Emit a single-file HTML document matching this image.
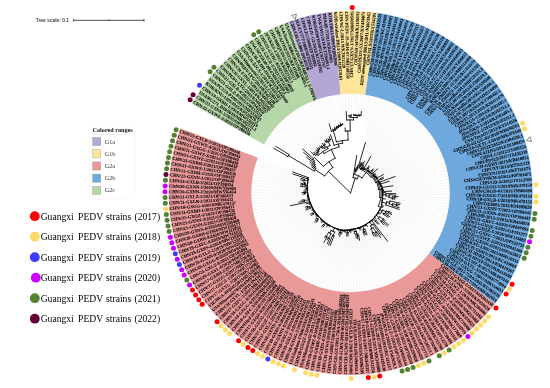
<!DOCTYPE html>
<html lang="en"><head><meta charset="utf-8"><title>PEDV phylogenetic tree</title>
<style>
html,body{margin:0;padding:0;background:#fff;}
body{width:550px;height:388px;overflow:hidden;}
svg{display:block;}
</style></head><body>
<svg width="550" height="388" viewBox="0 0 550 388">
<rect width="550" height="388" fill="#fff"/>
<g id="ranges">
<path d="M191.70,103.87 A182.1,182.1 0 0 1 288.58,21.67 L316.79,99.62 A99.2,99.2 0 0 0 264.02,144.40 Z" fill="#b6d7a8"/>
<path d="M288.58,21.67 A182.1,182.1 0 0 1 332.49,11.70 L340.71,94.19 A99.2,99.2 0 0 0 316.79,99.62 Z" fill="#b4a7d6"/>
<path d="M332.49,11.70 A182.1,182.1 0 0 1 377.50,12.81 L365.23,94.79 A99.2,99.2 0 0 0 340.71,94.19 Z" fill="#ffe599"/>
<path d="M377.50,12.81 A182.1,182.1 0 0 1 495.09,303.66 L429.29,253.24 A99.2,99.2 0 0 0 365.23,94.79 Z" fill="#6fa8dc"/>
<path d="M495.09,303.66 A182.1,182.1 0 0 1 180.32,128.24 L257.81,157.67 A99.2,99.2 0 0 0 429.29,253.24 Z" fill="#ea9999"/>
</g>
<g id="leaders" stroke="#dedede" stroke-width="0.35" fill="none">
<path d="M273.60,148.19L264.78,143.06"/>
<path d="M275.87,146.35L266.36,140.43"/>
<path d="M311.87,167.09L268.03,137.85"/>
<path d="M311.06,164.75L269.77,135.32"/>
<path d="M309.96,162.02L271.60,132.84"/>
<path d="M306.66,157.32L273.49,130.42"/>
<path d="M303.62,152.38L275.47,128.07"/>
<path d="M302.69,148.92L277.51,125.77"/>
<path d="M314.09,157.24L279.63,123.54"/>
<path d="M311.40,152.16L281.81,121.38"/>
<path d="M314.02,152.45L284.06,119.28"/>
<path d="M315.61,151.72L286.37,117.26"/>
<path d="M316.16,149.72L288.75,115.31"/>
<path d="M317.03,148.04L291.18,113.43"/>
<path d="M318.67,147.35L293.67,111.63"/>
<path d="M319.88,146.05L296.22,109.90"/>
<path d="M321.55,145.46L298.81,108.26"/>
<path d="M322.34,143.37L301.46,106.70"/>
<path d="M324.36,143.40L304.15,105.22"/>
<path d="M324.80,140.37L306.89,103.82"/>
<path d="M326.24,139.14L309.67,102.51"/>
<path d="M328.07,138.78L312.49,101.29"/>
<path d="M329.26,136.80L315.35,100.16"/>
<path d="M330.49,134.66L318.24,99.11"/>
<path d="M329.22,124.13L321.16,98.15"/>
<path d="M332.91,129.09L324.11,97.29"/>
<path d="M334.68,127.70L327.09,96.51"/>
<path d="M336.52,126.36L330.08,95.83"/>
<path d="M338.45,125.17L333.10,95.25"/>
<path d="M340.29,123.05L336.13,94.75"/>
<path d="M342.57,123.76L339.18,94.35"/>
<path d="M345.11,128.13L342.24,94.05"/>
<path d="M346.25,111.61L345.31,93.84"/>
<path d="M348.85,115.42L348.38,93.72"/>
<path d="M351.26,114.60L351.45,93.70"/>
<path d="M353.69,114.56L354.53,93.78"/>
<path d="M356.11,114.80L357.59,93.95"/>
<path d="M358.56,114.71L360.66,94.22"/>
<path d="M361.43,111.62L363.71,94.58"/>
<path d="M362.96,117.92L366.75,95.03"/>
<path d="M364.11,124.23L369.77,95.58"/>
<path d="M364.89,130.53L372.78,96.22"/>
<path d="M365.29,136.80L375.76,96.96"/>
<path d="M365.46,142.56L378.72,97.79"/>
<path d="M360.44,162.97L381.66,98.70"/>
<path d="M361.68,162.40L384.56,99.71"/>
<path d="M362.49,163.10L387.43,100.81"/>
<path d="M364.36,161.29L390.27,102.00"/>
<path d="M363.66,165.25L393.06,103.27"/>
<path d="M363.89,166.90L395.82,104.63"/>
<path d="M370.87,156.14L398.53,106.08"/>
<path d="M364.99,168.59L401.20,107.61"/>
<path d="M366.18,168.35L403.82,109.22"/>
<path d="M368.81,166.08L406.39,110.91"/>
<path d="M369.21,167.24L408.90,112.68"/>
<path d="M368.54,169.71L411.36,114.52"/>
<path d="M368.95,170.65L413.76,116.44"/>
<path d="M370.11,170.68L416.09,118.44"/>
<path d="M373.09,168.84L418.37,120.50"/>
<path d="M373.57,169.81L420.58,122.64"/>
<path d="M371.92,172.75L422.72,124.84"/>
<path d="M377.72,168.83L424.80,127.11"/>
<path d="M373.84,173.52L426.80,129.44"/>
<path d="M375.16,173.68L428.73,131.84"/>
<path d="M375.45,174.67L430.58,134.29"/>
<path d="M375.20,176.00L432.36,136.80"/>
<path d="M376.74,176.11L434.06,139.36"/>
<path d="M376.93,177.12L435.68,141.97"/>
<path d="M383.40,174.61L437.22,144.63"/>
<path d="M377.73,178.85L438.67,147.34"/>
<path d="M383.15,177.31L440.04,150.09"/>
<path d="M383.43,178.41L441.32,152.89"/>
<path d="M379.61,181.15L442.52,155.72"/>
<path d="M395.12,176.47L443.63,158.58"/>
<path d="M380.33,182.96L444.64,161.48"/>
<path d="M389.06,181.36L445.57,164.41"/>
<path d="M380.94,184.81L446.41,167.37"/>
<path d="M381.69,185.63L447.15,170.35"/>
<path d="M382.22,186.54L447.81,173.36"/>
<path d="M392.75,185.77L448.36,176.38"/>
<path d="M382.54,188.51L448.83,179.42"/>
<path d="M383.16,189.45L449.20,182.47"/>
<path d="M383.54,190.44L449.48,185.53"/>
<path d="M391.51,191.12L449.66,188.60"/>
<path d="M385.32,192.47L449.74,191.67"/>
<path d="M395.80,193.74L449.73,194.75"/>
<path d="M395.82,195.15L449.63,197.82"/>
<path d="M398.05,196.74L449.43,200.89"/>
<path d="M395.84,197.97L449.13,203.95"/>
<path d="M394.47,199.20L448.74,206.99"/>
<path d="M385.35,199.00L448.26,210.03"/>
<path d="M400.15,203.19L447.68,213.05"/>
<path d="M399.70,204.70L447.01,216.05"/>
<path d="M398.24,205.92L446.25,219.03"/>
<path d="M399.21,207.82L445.39,221.98"/>
<path d="M398.99,209.41L444.45,224.90"/>
<path d="M382.94,205.07L443.41,227.80"/>
<path d="M383.01,206.26L442.28,230.66"/>
<path d="M382.63,207.28L441.07,233.48"/>
<path d="M391.47,212.79L439.77,236.27"/>
<path d="M391.59,214.45L438.38,239.01"/>
<path d="M388.25,214.21L436.91,241.71"/>
<path d="M389.78,216.70L435.36,244.36"/>
<path d="M388.16,217.34L433.72,246.96"/>
<path d="M380.56,213.76L432.01,249.51"/>
<path d="M378.92,213.95L430.22,252.01"/>
<path d="M384.83,220.02L428.35,254.45"/>
<path d="M388.63,224.99L426.40,256.83"/>
<path d="M387.44,226.00L424.38,259.15"/>
<path d="M384.09,224.93L422.30,261.41"/>
<path d="M375.80,218.56L420.14,263.60"/>
<path d="M379.14,223.81L417.92,265.72"/>
<path d="M377.75,224.19L415.63,267.77"/>
<path d="M373.01,220.42L413.28,269.75"/>
<path d="M387.64,241.33L410.87,271.66"/>
<path d="M380.78,235.02L408.40,273.49"/>
<path d="M380.59,237.61L405.87,275.24"/>
<path d="M377.66,236.09L403.29,276.92"/>
<path d="M376.06,236.47L400.67,278.51"/>
<path d="M374.09,236.13L397.99,280.02"/>
<path d="M367.37,226.21L395.27,281.45"/>
<path d="M365.87,225.72L392.50,282.79"/>
<path d="M364.81,226.10L389.70,284.05"/>
<path d="M366.99,234.70L386.86,285.22"/>
<path d="M365.43,234.47L383.98,286.30"/>
<path d="M364.24,235.26L381.07,287.29"/>
<path d="M360.96,228.88L378.13,288.19"/>
<path d="M360.12,230.26L375.16,289.00"/>
<path d="M358.52,228.59L372.17,289.71"/>
<path d="M359.61,240.32L369.16,290.34"/>
<path d="M357.89,239.05L366.14,290.87"/>
<path d="M356.31,238.10L363.09,291.30"/>
<path d="M354.45,233.48L360.04,291.65"/>
<path d="M352.96,230.02L356.98,291.89"/>
<path d="M351.83,230.68L353.91,292.04"/>
<path d="M350.66,232.60L350.83,292.10"/>
<path d="M349.46,231.48L347.76,292.06"/>
<path d="M348.01,235.87L344.69,291.93"/>
<path d="M346.65,236.01L341.62,291.70"/>
<path d="M345.78,232.11L338.57,291.37"/>
<path d="M344.58,231.85L335.52,290.96"/>
<path d="M343.48,231.11L332.49,290.44"/>
<path d="M341.67,233.76L329.48,289.84"/>
<path d="M339.69,236.34L326.48,289.14"/>
<path d="M338.77,234.50L323.51,288.34"/>
<path d="M338.61,230.55L320.57,287.46"/>
<path d="M337.57,229.84L317.65,286.49"/>
<path d="M330.23,245.44L314.77,285.42"/>
<path d="M328.57,244.90L311.92,284.27"/>
<path d="M327.23,243.63L309.11,283.03"/>
<path d="M327.22,239.76L306.34,281.70"/>
<path d="M323.95,242.42L303.61,280.29"/>
<path d="M324.73,237.58L300.92,278.79"/>
<path d="M329.60,226.70L298.28,277.21"/>
<path d="M328.75,225.75L295.70,275.56"/>
<path d="M326.49,226.82L293.16,273.82"/>
<path d="M326.68,224.43L290.68,272.00"/>
<path d="M323.03,227.01L288.26,270.11"/>
<path d="M321.73,226.44L285.90,268.14"/>
<path d="M323.74,222.21L283.60,266.10"/>
<path d="M321.69,222.56L281.36,263.99"/>
<path d="M321.10,221.34L279.19,261.81"/>
<path d="M321.00,219.72L277.09,259.57"/>
<path d="M315.90,222.45L275.06,257.26"/>
<path d="M314.84,221.48L273.11,254.89"/>
<path d="M315.57,219.17L271.22,252.46"/>
<path d="M316.54,216.83L269.42,249.98"/>
<path d="M315.94,215.68L267.69,247.44"/>
<path d="M315.63,214.36L266.04,244.84"/>
<path d="M311.29,215.38L264.47,242.20"/>
<path d="M310.43,214.25L262.98,239.51"/>
<path d="M313.40,211.22L261.58,236.77"/>
<path d="M312.17,210.37L260.26,234.00"/>
<path d="M311.88,209.07L259.03,231.18"/>
<path d="M305.82,210.00L257.89,228.33"/>
<path d="M306.36,208.24L256.84,225.44"/>
<path d="M305.44,207.01L255.87,222.52"/>
<path d="M309.42,204.38L255.00,219.57"/>
<path d="M306.51,203.73L254.22,216.60"/>
<path d="M290.50,205.71L253.53,213.60"/>
<path d="M298.97,202.25L252.94,210.59"/>
<path d="M301.34,200.25L252.44,207.55"/>
<path d="M307.25,198.00L252.03,204.51"/>
<path d="M307.51,196.62L251.72,201.45"/>
<path d="M307.22,195.30L251.50,198.38"/>
<path d="M302.81,194.06L251.38,195.31"/>
<path d="M302.11,192.58L251.35,192.24"/>
<path d="M303.78,191.14L251.42,189.17"/>
<path d="M304.86,189.76L251.58,186.10"/>
<path d="M305.77,188.42L251.84,183.03"/>
<path d="M300.34,186.30L252.19,179.98"/>
<path d="M300.59,184.76L252.64,176.94"/>
<path d="M300.84,183.21L253.18,173.91"/>
<path d="M303.31,182.16L253.82,170.91"/>
<path d="M300.59,179.90L254.55,167.92"/>
<path d="M301.16,178.40L255.37,164.96"/>
<path d="M293.06,174.07L256.28,162.02"/>
<path d="M292.91,172.02L257.28,159.12"/>
</g>
<path id="tree" d="M350.55,192.90L328.33,171.28 M324.62,175.91A31.00,31.00 0 0 1 332.85,167.45 M324.62,175.91L314.92,169.55 M314.05,170.93A42.60,42.60 0 0 1 315.84,168.21 M314.05,170.93L288.43,155.51 M287.86,156.48A72.50,72.50 0 0 1 289.02,154.55 M287.86,156.48L273.60,148.19 M289.02,154.55L275.87,146.35 M315.84,168.21L314.53,167.28 M313.78,168.37A44.20,44.20 0 0 1 315.32,166.21 M313.78,168.37L311.87,167.09 M315.32,166.21L314.20,165.36 M313.42,166.43A45.60,45.60 0 0 1 315.02,164.32 M313.42,166.43L311.06,164.75 M315.02,164.32L313.93,163.44 M313.14,164.45A47.00,47.00 0 0 1 314.74,162.46 M313.14,164.45L309.96,162.02 M314.74,162.46L313.60,161.49 M312.88,162.36A48.50,48.50 0 0 1 314.34,160.64 M312.88,162.36L306.66,157.32 M314.34,160.64L312.84,159.31 M312.33,159.90A50.50,50.50 0 0 1 313.37,158.73 M312.33,159.90L303.62,152.38 M313.37,158.73L302.69,148.92 M332.85,167.45L328.86,161.70 M323.38,166.33A38.00,38.00 0 0 1 335.11,158.18 M323.38,166.33L314.09,157.24 M335.11,158.18L331.25,149.50 M324.03,153.49A47.50,47.50 0 0 1 339.04,146.82 M324.03,153.49L322.81,151.66 M318.03,155.32A49.70,49.70 0 0 1 327.99,148.62 M318.03,155.32L317.05,154.18 M315.65,155.44A51.20,51.20 0 0 1 318.50,152.98 M315.65,155.44L314.56,154.27 M313.96,154.83A52.80,52.80 0 0 1 315.16,153.72 M313.96,154.83L311.40,152.16 M315.16,153.72L314.02,152.45 M318.50,152.98L317.74,152.04 M316.65,152.94A52.40,52.40 0 0 1 318.86,151.17 M316.65,152.94L315.61,151.72 M318.86,151.17L318.26,150.37 M317.28,151.13A53.40,53.40 0 0 1 319.26,149.63 M317.28,151.13L316.16,149.72 M319.26,149.63L318.79,148.98 M318.11,149.48A54.20,54.20 0 0 1 319.47,148.49 M318.11,149.48L317.03,148.04 M319.47,148.49L318.67,147.35 M327.99,148.62L327.13,146.92 M324.32,148.46A51.60,51.60 0 0 1 330.02,145.56 M324.32,148.46L323.61,147.26 M322.21,148.11A53.00,53.00 0 0 1 325.04,146.44 M322.21,148.11L321.57,147.10 M320.86,147.55A54.20,54.20 0 0 1 322.28,146.66 M320.86,147.55L319.88,146.05 M322.28,146.66L321.55,145.46 M325.04,146.44L324.27,145.04 M323.53,145.45A54.60,54.60 0 0 1 325.01,144.64 M323.53,145.45L322.34,143.37 M325.01,144.64L324.36,143.40 M330.02,145.56L328.27,141.52 M326.69,142.24A56.00,56.00 0 0 1 329.87,140.86 M326.69,142.24L326.26,141.33 M325.46,141.72A57.00,57.00 0 0 1 327.06,140.96 M325.46,141.72L324.80,140.37 M327.06,140.96L326.24,139.14 M329.87,140.86L329.39,139.65 M328.57,139.98A57.30,57.30 0 0 1 330.22,139.33 M328.57,139.98L328.07,138.78 M330.22,139.33L329.26,136.80 M339.04,146.82L338.34,144.00 M334.13,145.25A50.40,50.40 0 0 1 342.63,143.13 M334.13,145.25L330.49,134.66 M342.63,143.13L342.23,140.56 M336.40,141.82A53.00,53.00 0 0 1 348.16,139.95 M336.40,141.82L333.33,130.74 M331.44,131.30A64.50,64.50 0 0 1 335.23,130.25 M331.44,131.30L329.22,124.13 M335.23,130.25L334.97,129.18 M333.07,129.67A65.60,65.60 0 0 1 336.89,128.74 M333.07,129.67L332.91,129.09 M336.89,128.74L336.68,127.76 M334.80,128.19A66.60,66.60 0 0 1 338.58,127.38 M334.80,128.19L334.68,127.70 M338.58,127.38L338.42,126.50 M336.62,126.85A67.50,67.50 0 0 1 340.22,126.19 M336.62,126.85L336.52,126.36 M340.22,126.19L340.10,125.40 M338.54,125.66A68.30,68.30 0 0 1 341.67,125.18 M338.54,125.66L338.45,125.17 M341.67,125.18L341.58,124.49 M340.52,124.63A69.00,69.00 0 0 1 342.64,124.35 M340.52,124.63L340.29,123.05 M342.64,124.35L342.57,123.76 M348.16,139.95L347.75,130.96 M345.36,131.12A62.00,62.00 0 0 1 350.15,130.90 M345.36,131.12L345.11,128.13 M350.15,130.90L350.08,119.90 M346.69,120.00A73.00,73.00 0 0 1 353.48,119.96 M346.69,120.00L346.25,111.61 M353.48,119.96L353.58,117.46 M350.07,117.40A75.50,75.50 0 0 1 357.08,117.68 M350.07,117.40L350.06,115.90 M348.86,115.92A77.00,77.00 0 0 1 351.25,115.90 M348.86,115.92L348.85,115.42 M351.25,115.90L351.26,114.60 M357.08,117.68L357.26,115.59 M354.86,115.42A77.60,77.60 0 0 1 359.65,115.84 M354.86,115.42L354.88,115.02 M353.68,114.96A78.00,78.00 0 0 1 356.09,115.10 M353.68,114.96L353.69,114.56 M356.09,115.10L356.11,114.80 M359.65,115.84L359.72,115.24 M358.52,115.11A78.20,78.20 0 0 1 360.92,115.39 M358.52,115.11L358.56,114.71 M360.92,115.39L361.43,111.62 M350.55,192.90L355.15,178.10 M353.08,177.61A15.50,15.50 0 0 1 357.13,178.86 M353.08,177.61L356.76,155.41 M357.13,178.86L358.61,175.70 M354.74,174.37A19.00,19.00 0 0 1 362.11,177.82 M354.74,174.37L355.51,170.95 M354.91,170.83A22.50,22.50 0 0 1 356.10,171.10 M354.91,170.83L355.30,168.86 M356.10,171.10L356.47,169.64 M355.93,169.51A24.00,24.00 0 0 1 357.01,169.79 M355.93,169.51L356.38,167.56 M357.01,169.79L357.55,167.86 M357.16,167.75A26.00,26.00 0 0 1 357.93,167.97 M357.16,167.75L357.79,165.34 M357.93,167.97L365.46,142.56 M362.11,177.82L366.25,172.43 M360.41,169.06A25.80,25.80 0 0 1 371.02,177.20 M360.41,169.06L360.71,168.32 M359.48,167.84A26.60,26.60 0 0 1 361.93,168.86 M359.48,167.84L360.14,165.97 M359.51,165.76A28.58,28.58 0 0 1 360.76,166.20 M359.51,165.76L360.44,162.97 M360.76,166.20L361.26,164.90 M360.83,164.73A29.98,29.98 0 0 1 361.70,165.07 M360.83,164.73L361.68,162.40 M361.70,165.07L362.49,163.10 M361.93,168.86L362.09,168.52 M361.35,168.18A26.98,26.98 0 0 1 362.81,168.87 M361.35,168.18L364.36,161.29 M362.81,168.87L362.87,168.76 M362.16,168.41A27.10,27.10 0 0 1 363.57,169.13 M362.16,168.41L363.66,165.25 M363.57,169.13L363.63,169.02 M362.97,168.68A27.23,27.23 0 0 1 364.27,169.38 M362.97,168.68L363.89,166.90 M364.27,169.38L364.33,169.28 M363.78,168.96A27.35,27.35 0 0 1 364.88,169.60 M363.78,168.96L370.87,156.14 M364.88,169.60L364.94,169.50 M364.58,169.28A27.48,27.48 0 0 1 365.30,169.72 M364.58,169.28L364.99,168.59 M365.30,169.72L366.18,168.35 M371.02,177.20L372.14,176.35 M367.08,171.30A27.20,27.20 0 0 1 375.70,182.55 M367.08,171.30L367.50,170.74 M366.61,170.09A27.90,27.90 0 0 1 368.37,171.43 M366.61,170.09L367.77,168.44 M367.39,168.18A29.91,29.91 0 0 1 368.14,168.71 M367.39,168.18L368.81,166.08 M368.14,168.71L369.21,167.24 M368.37,171.43L368.53,171.24 M367.81,170.66A28.15,28.15 0 0 1 369.23,171.84 M367.81,170.66L368.54,169.71 M369.23,171.84L369.31,171.75 M368.57,171.11A28.27,28.27 0 0 1 370.04,172.42 M368.57,171.11L368.95,170.65 M370.04,172.42L370.13,172.32 M369.31,171.58A28.40,28.40 0 0 1 370.91,173.10 M369.31,171.58L370.11,170.68 M370.91,173.10L371.00,173.01 M370.37,172.39A28.52,28.52 0 0 1 371.60,173.65 M370.37,172.39L371.83,170.88 M371.48,170.55A30.62,30.62 0 0 1 372.17,171.21 M371.48,170.55L373.09,168.84 M372.17,171.21L373.57,169.81 M371.60,173.65L371.79,173.49 M371.49,173.16A28.77,28.77 0 0 1 372.09,173.82 M371.49,173.16L371.92,172.75 M372.09,173.82L377.72,168.83 M375.70,182.55L376.81,182.09 M372.93,175.41A28.40,28.40 0 0 1 378.75,189.57 M372.93,175.41L373.48,174.98 M372.92,174.29A29.10,29.10 0 0 1 374.02,175.70 M372.92,174.29L373.84,173.52 M374.02,175.70L374.12,175.62 M373.58,174.91A29.23,29.23 0 0 1 374.64,176.35 M373.58,174.91L375.16,173.68 M374.64,176.35L374.74,176.27 M374.23,175.55A29.36,29.36 0 0 1 375.23,177.01 M374.23,175.55L375.45,174.67 M375.23,177.01L375.34,176.94 M374.87,176.22A29.49,29.49 0 0 1 375.79,177.66 M374.87,176.22L375.20,176.00 M375.79,177.66L375.90,177.60 M375.48,176.92A29.61,29.61 0 0 1 376.31,178.29 M375.48,176.92L376.74,176.11 M376.31,178.29L376.42,178.23 M376.07,177.63A29.74,29.74 0 0 1 376.76,178.83 M376.07,177.63L376.93,177.12 M376.76,178.83L376.87,178.77 M376.65,178.37A29.87,29.87 0 0 1 377.08,179.18 M376.65,178.37L383.40,174.61 M377.08,179.18L377.73,178.85 M378.75,189.57L379.95,189.43 M377.90,181.59A29.60,29.60 0 0 1 379.79,197.53 M377.90,181.59L378.55,181.32 M378.08,180.25A30.30,30.30 0 0 1 378.97,182.40 M378.08,180.25L380.81,178.99 M380.60,178.53A33.31,33.31 0 0 1 381.03,179.47 M380.60,178.53L383.15,177.31 M381.03,179.47L383.43,178.41 M378.97,182.40L379.21,182.32 M378.87,181.45A30.55,30.55 0 0 1 379.52,183.20 M378.87,181.45L379.61,181.15 M379.52,183.20L379.64,183.16 M379.33,182.29A30.68,30.68 0 0 1 379.92,184.03 M379.33,182.29L395.12,176.47 M379.92,184.03L380.04,184.00 M379.76,183.15A30.80,30.80 0 0 1 380.28,184.86 M379.76,183.15L380.33,182.96 M380.28,184.86L380.40,184.83 M380.17,184.02A30.93,30.93 0 0 1 380.61,185.64 M380.17,184.02L389.06,181.36 M380.61,185.64L380.73,185.61 M380.55,184.91A31.05,31.05 0 0 1 380.89,186.31 M380.55,184.91L380.94,184.81 M380.89,186.31L381.02,186.29 M380.91,185.81A31.18,31.18 0 0 1 381.11,186.76 M380.91,185.81L381.69,185.63 M381.11,186.76L382.22,186.54 M379.79,197.53L381.17,197.74 M381.27,188.74A31.00,31.00 0 0 1 378.48,206.34 M381.27,188.74L382.06,188.63 M381.91,187.60A31.80,31.80 0 0 1 382.18,189.66 M381.91,187.60L392.75,185.77 M382.18,189.66L382.28,189.65 M382.15,188.57A31.89,31.89 0 0 1 382.37,190.73 M382.15,188.57L382.54,188.51 M382.37,190.73L382.46,190.72 M382.36,189.54A31.99,31.99 0 0 1 382.52,191.91 M382.36,189.54L383.16,189.45 M382.52,191.91L382.62,191.91 M382.54,190.52A32.08,32.08 0 0 1 382.63,193.31 M382.54,190.52L383.54,190.44 M382.63,193.31L382.72,193.31 M382.70,191.51A32.18,32.18 0 0 1 382.65,195.11 M382.70,191.51L391.51,191.12 M382.65,195.11L382.74,195.11 M382.82,192.50A32.27,32.27 0 0 1 382.46,197.71 M382.82,192.50L385.32,192.47 M382.46,197.71L382.55,197.72 M382.87,194.57A32.36,32.36 0 0 1 381.93,200.83 M382.87,194.57L385.92,194.72 M385.96,193.56A35.42,35.42 0 0 1 385.84,195.89 M385.96,193.56L395.80,193.74 M385.84,195.89L389.12,196.17 M389.21,194.82A38.71,38.71 0 0 1 388.99,197.51 M389.21,194.82L395.82,195.15 M388.99,197.51L392.33,197.91 M392.44,196.94A42.08,42.08 0 0 1 392.20,198.88 M392.44,196.94L394.34,197.12 M394.40,196.44A43.99,43.99 0 0 1 394.27,197.80 M394.40,196.44L398.05,196.74 M394.27,197.80L395.84,197.97 M392.20,198.88L394.47,199.20 M381.93,200.83L382.38,200.95 M382.89,198.57A32.84,32.84 0 0 1 381.70,203.28 M382.89,198.57L385.35,199.00 M381.70,203.28L381.79,203.31 M382.16,202.12A32.93,32.93 0 0 1 381.37,204.48 M382.16,202.12L386.32,203.34 M386.75,201.74A37.27,37.27 0 0 1 385.82,204.92 M386.75,201.74L389.56,202.42 M389.87,201.06A40.16,40.16 0 0 1 389.21,203.78 M389.87,201.06L400.15,203.19 M389.21,203.78L392.63,204.74 M392.89,203.76A43.71,43.71 0 0 1 392.34,205.71 M392.89,203.76L396.48,204.68 M396.66,203.97A47.42,47.42 0 0 1 396.30,205.39 M396.66,203.97L399.70,204.70 M396.30,205.39L398.24,205.92 M392.34,205.71L399.21,207.82 M385.82,204.92L398.99,209.41 M381.37,204.48L382.94,205.07 M378.48,206.34L380.83,207.47 M381.62,205.69A33.60,33.60 0 0 1 379.93,209.21 M381.62,205.69L383.01,206.26 M379.93,209.21L379.98,209.24 M381.26,206.67A33.66,33.66 0 0 1 378.48,211.68 M381.26,206.67L382.63,207.28 M378.48,211.68L378.53,211.72 M379.71,209.83A33.72,33.72 0 0 1 377.23,213.52 M379.71,209.83L381.94,211.12 M382.55,210.02A36.29,36.29 0 0 1 381.28,212.21 M382.55,210.02L385.84,211.77 M386.27,210.95A40.02,40.02 0 0 1 385.39,212.59 M386.27,210.95L388.62,212.14 M388.91,211.54A42.65,42.65 0 0 1 388.31,212.72 M388.91,211.54L391.47,212.79 M388.31,212.72L391.59,214.45 M385.39,212.59L388.25,214.21 M381.28,212.21L383.92,213.86 M384.24,213.34A39.41,39.41 0 0 1 383.59,214.38 M384.24,213.34L389.78,216.70 M383.59,214.38L388.16,217.34 M377.23,213.52L377.49,213.72 M378.51,212.33A34.05,34.05 0 0 1 376.41,215.05 M378.51,212.33L380.56,213.76 M376.41,215.05L376.46,215.10 M377.96,213.23A34.12,34.12 0 0 1 374.85,216.86 M377.96,213.23L378.92,213.95 M374.85,216.86L374.90,216.92 M376.36,215.34A34.20,34.20 0 0 1 373.35,218.39 M376.36,215.34L378.97,217.62 M379.72,216.73A37.67,37.67 0 0 1 378.19,218.49 M379.72,216.73L382.84,219.27 M383.24,218.77A41.69,41.69 0 0 1 382.43,219.77 M383.24,218.77L384.83,220.02 M382.43,219.77L388.63,224.99 M378.19,218.49L381.34,221.40 M381.78,220.92A41.95,41.95 0 0 1 380.89,221.87 M381.78,220.92L387.44,226.00 M380.89,221.87L384.09,224.93 M373.35,218.39L373.55,218.62 M374.75,217.49A34.50,34.50 0 0 1 372.29,219.69 M374.75,217.49L375.80,218.56 M372.29,219.69L372.34,219.75 M373.63,218.64A34.58,34.58 0 0 1 370.99,220.79 M373.63,218.64L375.53,220.76 M375.96,220.37A37.42,37.42 0 0 1 375.10,221.14 M375.96,220.37L379.14,223.81 M375.10,221.14L377.75,224.19 M370.99,220.79L371.08,220.91 M372.51,219.80A34.73,34.73 0 0 1 369.59,221.94 M372.51,219.80L373.01,220.42 M369.59,221.94L369.63,222.00 M371.71,220.53A34.80,34.80 0 0 1 367.46,223.32 M371.71,220.53L387.64,241.33 M367.46,223.32L367.49,223.38 M369.77,222.00A34.88,34.88 0 0 1 365.11,224.59 M369.77,222.00L371.83,225.11 M373.06,224.26A38.61,38.61 0 0 1 370.57,225.91 M373.06,224.26L380.78,235.02 M370.57,225.91L372.07,228.39 M373.16,227.71A41.50,41.50 0 0 1 370.96,229.04 M373.16,227.71L376.15,232.31 M376.76,231.91A46.99,46.99 0 0 1 375.54,232.70 M376.76,231.91L380.59,237.61 M375.54,232.70L377.66,236.09 M370.96,229.04L373.05,232.74 M373.67,232.39A45.76,45.76 0 0 1 372.43,233.08 M373.67,232.39L376.06,236.47 M372.43,233.08L374.09,236.13 M365.11,224.59L365.29,224.99 M366.47,224.42A35.31,35.31 0 0 1 364.10,225.51 M366.47,224.42L367.37,226.21 M364.10,225.51L364.14,225.61 M365.53,225.00A35.42,35.42 0 0 1 362.73,226.16 M365.53,225.00L365.87,225.72 M362.73,226.16L362.76,226.26 M364.57,225.54A35.53,35.53 0 0 1 360.92,226.88 M364.57,225.54L364.81,226.10 M360.92,226.88L360.95,226.99 M362.82,226.36A35.64,35.64 0 0 1 359.05,227.51 M362.82,226.36L364.01,229.61 M364.86,229.29A39.10,39.10 0 0 1 363.15,229.91 M364.86,229.29L366.99,234.70 M363.15,229.91L363.83,231.91 M364.44,231.70A41.21,41.21 0 0 1 363.23,232.11 M364.44,231.70L365.43,234.47 M363.23,232.11L364.24,235.26 M359.05,227.51L359.12,227.82 M360.55,227.44A35.96,35.96 0 0 1 357.68,228.14 M360.55,227.44L360.96,228.88 M357.68,228.14L357.70,228.25 M359.50,227.84A36.06,36.06 0 0 1 355.89,228.57 M359.50,227.84L360.12,230.26 M355.89,228.57L355.91,228.67 M358.44,228.20A36.17,36.17 0 0 1 353.35,228.96 M358.44,228.20L358.52,228.59 M353.35,228.96L353.36,229.07 M355.00,228.90A36.28,36.28 0 0 1 351.72,229.16 M355.00,228.90L355.31,231.39 M356.35,231.25A38.78,38.78 0 0 1 354.26,231.51 M356.35,231.25L356.76,234.00 M357.72,233.85A41.57,41.57 0 0 1 355.81,234.14 M357.72,233.85L358.02,235.57 M358.68,235.45A43.32,43.32 0 0 1 357.36,235.68 M358.68,235.45L359.61,240.32 M357.36,235.68L357.89,239.05 M355.81,234.14L356.31,238.10 M354.26,231.51L354.45,233.48 M351.72,229.16L351.74,229.68 M352.93,229.62A36.80,36.80 0 0 1 350.54,229.70 M352.93,229.62L352.96,230.02 M350.54,229.70L350.54,229.90 M351.80,229.88A37.00,37.00 0 0 1 349.28,229.88 M351.80,229.88L351.83,230.68 M349.28,229.88L349.28,230.08 M350.66,230.10A37.20,37.20 0 0 1 347.90,230.01 M350.66,230.10L350.66,232.60 M347.90,230.01L347.88,230.20 M349.50,230.29A37.40,37.40 0 0 1 346.28,230.06 M349.50,230.29L349.46,231.48 M346.28,230.06L346.25,230.25 M347.75,230.40A37.60,37.60 0 0 1 344.77,230.05 M347.75,230.40L347.57,232.72 M348.19,232.76A39.93,39.93 0 0 1 346.96,232.67 M348.19,232.76L348.01,235.87 M346.96,232.67L346.65,236.01 M344.77,230.05L344.71,230.45 M345.96,230.62A38.00,38.00 0 0 1 343.46,230.23 M345.96,230.62L345.78,232.11 M343.46,230.23L343.42,230.43 M344.76,230.66A38.20,38.20 0 0 1 342.09,230.15 M344.76,230.66L344.58,231.85 M342.09,230.15L342.08,230.21 M343.58,230.52A38.26,38.26 0 0 1 340.59,229.84 M343.58,230.52L343.48,231.11 M340.59,229.84L340.57,229.90 M342.41,230.34A38.32,38.32 0 0 1 338.75,229.36 M342.41,230.34L341.67,233.76 M338.75,229.36L338.74,229.41 M340.66,229.98A38.38,38.38 0 0 1 336.84,228.74 M340.66,229.98L340.03,232.35 M340.65,232.50A40.82,40.82 0 0 1 339.42,232.18 M340.65,232.50L339.69,236.34 M339.42,232.18L338.77,234.50 M336.84,228.74L336.80,228.86 M338.92,229.60A38.50,38.50 0 0 1 334.73,227.99 M338.92,229.60L338.61,230.55 M334.73,227.99L334.70,228.05 M337.77,229.27A38.55,38.55 0 0 1 331.76,226.56 M337.77,229.27L337.57,229.84 M331.76,226.56L331.73,226.61 M334.42,227.98A38.61,38.61 0 0 1 329.15,225.04 M334.42,227.98L332.88,231.33 M334.69,232.11A42.29,42.29 0 0 1 331.12,230.46 M334.69,232.11L333.28,235.59 M333.94,235.86A46.06,46.06 0 0 1 332.62,235.32 M333.94,235.86L330.23,245.44 M332.62,235.32L328.57,244.90 M331.12,230.46L329.79,233.02 M331.05,233.64A45.17,45.17 0 0 1 328.56,232.36 M331.05,233.64L328.84,238.26 M329.54,238.59A50.29,50.29 0 0 1 328.14,237.92 M329.54,238.59L327.23,243.63 M328.14,237.92L327.22,239.76 M328.56,232.36L326.26,236.49 M326.94,236.86A49.90,49.90 0 0 1 325.59,236.10 M326.94,236.86L323.95,242.42 M325.59,236.10L324.73,237.58 M329.15,225.04L328.95,225.34 M330.02,226.02A38.97,38.97 0 0 1 327.91,224.62 M330.02,226.02L329.60,226.70 M327.91,224.62L327.87,224.66 M328.97,225.42A39.03,39.03 0 0 1 326.80,223.87 M328.97,225.42L328.75,225.75 M326.80,223.87L326.77,223.92 M327.94,224.78A39.09,39.09 0 0 1 325.63,223.01 M327.94,224.78L326.49,226.82 M325.63,223.01L325.59,223.06 M326.93,224.11A39.15,39.15 0 0 1 324.31,221.95 M326.93,224.11L326.68,224.43 M324.31,221.95L324.27,221.99 M325.46,223.03A39.20,39.20 0 0 1 323.12,220.91 M325.46,223.03L323.90,224.90 M324.40,225.31A41.64,41.64 0 0 1 323.41,224.49 M324.40,225.31L323.03,227.01 M323.41,224.49L321.73,226.44 M323.12,220.91L323.03,220.99 M324.01,221.92A39.32,39.32 0 0 1 322.09,220.03 M324.01,221.92L323.74,222.21 M322.09,220.03L322.05,220.07 M323.08,221.12A39.38,39.38 0 0 1 321.05,218.99 M323.08,221.12L321.69,222.56 M321.05,218.99L321.00,219.03 M322.18,220.30A39.44,39.44 0 0 1 319.88,217.70 M322.18,220.30L321.10,221.34 M319.88,217.70L319.84,217.74 M321.30,219.45A39.50,39.50 0 0 1 318.47,215.95 M321.30,219.45L321.00,219.72 M318.47,215.95L318.35,216.03 M319.41,217.44A39.65,39.65 0 0 1 317.36,214.59 M319.41,217.44L317.47,218.96 M318.09,219.72A42.11,42.11 0 0 1 316.88,218.18 M318.09,219.72L316.93,220.68 M317.36,221.20A43.62,43.62 0 0 1 316.50,220.16 M317.36,221.20L315.90,222.45 M316.50,220.16L314.84,221.48 M316.88,218.18L315.57,219.17 M317.36,214.59L316.99,214.83 M317.76,215.97A40.09,40.09 0 0 1 316.26,213.67 M317.76,215.97L316.54,216.83 M316.26,213.67L316.14,213.74 M316.94,215.02A40.24,40.24 0 0 1 315.38,212.44 M316.94,215.02L315.94,215.68 M315.38,212.44L315.25,212.51 M316.15,214.04A40.38,40.38 0 0 1 314.42,210.94 M316.15,214.04L315.63,214.36 M314.42,210.94L314.29,211.01 M315.07,212.49A40.53,40.53 0 0 1 313.57,209.49 M315.07,212.49L313.25,213.50 M313.57,214.08A42.61,42.61 0 0 1 312.93,212.92 M313.57,214.08L311.29,215.38 M312.93,212.92L310.43,214.25 M313.57,209.49L313.30,209.61 M313.94,210.96A40.82,40.82 0 0 1 312.72,208.23 M313.94,210.96L313.40,211.22 M312.72,208.23L312.58,208.29 M313.26,209.87A40.97,40.97 0 0 1 311.97,206.68 M313.26,209.87L312.17,210.37 M311.97,206.68L311.83,206.73 M312.62,208.77A41.12,41.12 0 0 1 311.15,204.65 M312.62,208.77L311.88,209.07 M311.15,204.65L311.01,204.70 M311.67,206.74A41.26,41.26 0 0 1 310.45,202.62 M311.67,206.74L309.89,207.37 M310.24,208.31A43.15,43.15 0 0 1 309.57,206.42 M310.24,208.31L305.82,210.00 M309.57,206.42L307.58,207.08 M307.80,207.74A45.25,45.25 0 0 1 307.36,206.41 M307.80,207.74L306.36,208.24 M307.36,206.41L305.44,207.01 M310.45,202.62L310.02,202.73 M310.38,204.11A41.71,41.71 0 0 1 309.70,201.33 M310.38,204.11L309.42,204.38 M309.70,201.33L309.56,201.36 M309.91,202.90A41.85,41.85 0 0 1 309.27,199.81 M309.91,202.90L306.51,203.73 M309.27,199.81L309.13,199.83 M309.47,201.67A42.00,42.00 0 0 1 308.86,197.98 M309.47,201.67L290.50,205.71 M308.86,197.98L308.66,198.01 M308.91,199.78A42.20,42.20 0 0 1 308.48,196.23 M308.91,199.78L304.24,200.55 M304.37,201.27A46.94,46.94 0 0 1 304.13,199.83 M304.37,201.27L298.97,202.25 M304.13,199.83L301.34,200.25 M308.48,196.23L308.08,196.26 M308.24,197.88A42.60,42.60 0 0 1 307.98,194.62 M308.24,197.88L307.25,198.00 M307.98,194.62L307.79,194.63 M307.91,196.59A42.80,42.80 0 0 1 307.75,192.67 M307.91,196.59L307.51,196.62 M307.75,192.67L307.55,192.67 M307.62,195.28A43.00,43.00 0 0 1 307.64,190.06 M307.62,195.28L307.22,195.30 M307.64,190.06L307.44,190.05 M307.35,192.28A43.20,43.20 0 0 1 307.65,187.83 M307.35,192.28L305.57,192.25 M305.57,193.30A44.98,44.98 0 0 1 305.60,191.21 M305.57,193.30L304.50,193.31 M304.52,194.02A46.05,46.05 0 0 1 304.50,192.59 M304.52,194.02L302.81,194.06 M304.50,192.59L302.11,192.58 M305.60,191.21L303.78,191.14 M307.65,187.83L307.05,187.76 M306.85,189.90A43.80,43.80 0 0 1 307.36,185.64 M306.85,189.90L304.86,189.76 M307.36,185.64L307.16,185.61 M306.77,188.52A44.00,44.00 0 0 1 307.74,182.73 M306.77,188.52L305.77,188.42 M307.74,182.73L307.57,182.69 M306.98,185.62A44.17,44.17 0 0 1 308.36,179.80 M306.98,185.62L305.27,185.34 M305.04,186.92A45.91,45.91 0 0 1 305.56,183.76 M305.04,186.92L300.34,186.30 M305.56,183.76L304.57,183.56 M304.37,184.64A46.91,46.91 0 0 1 304.80,182.50 M304.37,184.64L302.65,184.33 M302.52,185.07A48.66,48.66 0 0 1 302.79,183.59 M302.52,185.07L300.59,184.76 M302.79,183.59L300.84,183.21 M304.80,182.50L303.31,182.16 M308.36,179.80L307.69,179.59 M307.30,180.93A44.88,44.88 0 0 1 308.13,178.27 M307.30,180.93L304.14,180.05 M303.95,180.77A48.15,48.15 0 0 1 304.35,179.34 M303.95,180.77L300.59,179.90 M304.35,179.34L301.16,178.40 M308.13,178.27L307.80,178.16 M307.57,178.82A45.23,45.23 0 0 1 308.03,177.50 M307.57,178.82L293.06,174.07 M308.03,177.50L292.91,172.02" fill="none" stroke="#000" stroke-width="0.85" stroke-linecap="square"/>
<g id="labels" font-family="'Liberation Serif', serif" font-weight="bold" font-size="4.45" fill="#000" stroke="#000" stroke-width="0.07">
<text transform="translate(350.55,192.9) rotate(30.158)" x="-181.6" y="1.45" text-anchor="start">CHN/22-GXWZ-2/2022/OP398450</text>
<text transform="translate(350.55,192.9) rotate(31.933)" x="-181.6" y="1.45" text-anchor="start">CHN/22-GXNN-2/2022/OP398451</text>
<text transform="translate(350.55,192.9) rotate(33.709)" x="-181.6" y="1.45" text-anchor="start">USA/PC273_D10/2019/MK392335.1</text>
<text transform="translate(350.55,192.9) rotate(35.484)" x="-181.6" y="1.45" text-anchor="start">CHN/19-GXBH-1/2019/MW556459</text>
<text transform="translate(350.55,192.9) rotate(37.259)" x="-181.6" y="1.45" text-anchor="start">KOR/KNU-1305/2015/KP520679.1</text>
<text transform="translate(350.55,192.9) rotate(39.035)" x="-181.6" y="1.45" text-anchor="start">USA/PC22A-P100/2015/MF532693</text>
<text transform="translate(350.55,192.9) rotate(40.810)" x="-181.6" y="1.45" text-anchor="start">CHN/21-GXLZ-8/2021/OP632510</text>
<text transform="translate(350.55,192.9) rotate(42.586)" x="-181.6" y="1.45" text-anchor="start">CHN/21-GXLB-4/2021/OP942950</text>
<text transform="translate(350.55,192.9) rotate(44.361)" x="-181.6" y="1.45" text-anchor="start">CHN/PEDV-LYG/2013/KM427055</text>
<text transform="translate(350.55,192.9) rotate(46.136)" x="-181.6" y="1.45" text-anchor="start">CHN/CH-GXYL-1/2014/KJ435105</text>
<text transform="translate(350.55,192.9) rotate(47.912)" x="-181.6" y="1.45" text-anchor="start">CHN/CH-FJND-3/2012/KM434843</text>
<text transform="translate(350.55,192.9) rotate(49.687)" x="-181.6" y="1.45" text-anchor="start">CHN/PEDV-LYG/2014/KR427186</text>
<text transform="translate(350.55,192.9) rotate(51.463)" x="-181.6" y="1.45" text-anchor="start">USA/Minnesota52/2013/LC538354</text>
<text transform="translate(350.55,192.9) rotate(53.238)" x="-181.6" y="1.45" text-anchor="start">CHN/CH-ZJCX-1/2014/KJ435105</text>
<text transform="translate(350.55,192.9) rotate(55.013)" x="-181.6" y="1.45" text-anchor="start">CHN/CH-JLDH-2016/2011/KJ458469</text>
<text transform="translate(350.55,192.9) rotate(56.789)" x="-181.6" y="1.45" text-anchor="start">USA/NC35140/2014/MH514499.1</text>
<text transform="translate(350.55,192.9) rotate(58.564)" x="-181.6" y="1.45" text-anchor="start">CHN/21-GXCZ-1/2021/OP515403</text>
<text transform="translate(350.55,192.9) rotate(60.340)" x="-181.6" y="1.45" text-anchor="start">CHN/21-GXHC-8/2021/OP874809</text>
<text transform="translate(350.55,192.9) rotate(62.115)" x="-181.6" y="1.45" text-anchor="start">JPN/KGS-1/2013/KR502312.1</text>
<text transform="translate(350.55,192.9) rotate(63.890)" x="-181.6" y="1.45" text-anchor="start">CHN/HBQX/2011/MK395117</text>
<text transform="translate(350.55,192.9) rotate(65.666)" x="-181.6" y="1.45" text-anchor="start">CHN/AJ1102/2012/KF411086</text>
<text transform="translate(350.55,192.9) rotate(67.441)" x="-181.6" y="1.45" text-anchor="start">USA/Iowa-18984/2015/MF532693.1</text>
<text transform="translate(350.55,192.9) rotate(69.217)" x="-181.6" y="1.45" text-anchor="start">USA/Minnesota/2013/KF468752.1 S-INDEL</text>
<text transform="translate(350.55,192.9) rotate(70.992)" x="-181.6" y="1.45" text-anchor="start">CHN/CH-S/1986/JN547228</text>
<text transform="translate(350.55,192.9) rotate(72.767)" x="-181.6" y="1.45" text-anchor="start">SUI/CV777/1988/AF353511</text>
<text transform="translate(350.55,192.9) rotate(74.543)" x="-181.6" y="1.45" text-anchor="start">CHN/LZC/2006/EF185992</text>
<text transform="translate(350.55,192.9) rotate(76.318)" x="-181.6" y="1.45" text-anchor="start">CHN/ZJU-G2/2013/KU558702</text>
<text transform="translate(350.55,192.9) rotate(78.094)" x="-181.6" y="1.45" text-anchor="start">KOR/SM98/1998/GU937797</text>
<text transform="translate(350.55,192.9) rotate(79.869)" x="-181.6" y="1.45" text-anchor="start">TWA/YA03/2014/KT336491.1</text>
<text transform="translate(350.55,192.9) rotate(81.644)" x="-181.6" y="1.45" text-anchor="start">THA/85-7/2011/KR610993</text>
<text transform="translate(350.55,192.9) rotate(83.420)" x="-181.6" y="1.45" text-anchor="start">KOR/DR13/1999/DQ862099</text>
<text transform="translate(350.55,192.9) rotate(85.195)" x="-181.6" y="1.45" text-anchor="start">KOR/virulent DR13/2009/JQ023161</text>
<text transform="translate(350.55,192.9) rotate(86.971)" x="-181.6" y="1.45" text-anchor="start">CHN/SC-L/2015 N/KT021228</text>
<text transform="translate(350.55,192.9) rotate(88.746)" x="-181.6" y="1.45" text-anchor="start">CHN/PEDV-JS-2016-07/MH748550</text>
<text transform="translate(350.55,192.9) rotate(-89.479)" x="181.6" y="1.45" text-anchor="end">CHN/17-GXNN-1/2017/MK690505</text>
<text transform="translate(350.55,192.9) rotate(-87.703)" x="181.6" y="1.45" text-anchor="end">CHN/AH-M/2014/KJ158152</text>
<text transform="translate(350.55,192.9) rotate(-85.928)" x="181.6" y="1.45" text-anchor="end">CHN/PEDV-SX/2017/KY420075</text>
<text transform="translate(350.55,192.9) rotate(-84.152)" x="181.6" y="1.45" text-anchor="end">KUN/attenuated DR13/2011/JQ023162</text>
<text transform="translate(350.55,192.9) rotate(-82.377)" x="181.6" y="1.45" text-anchor="end">CHN/JSLS/2015/KX534205</text>
<text transform="translate(350.55,192.9) rotate(-80.602)" x="181.6" y="1.45" text-anchor="end">CHN/CH-GDHY/2016/KJ419529</text>
<text transform="translate(350.55,192.9) rotate(-78.826)" x="181.6" y="1.45" text-anchor="end">CHN/CH-HNYF/2012/KC419005</text>
<text transform="translate(350.55,192.9) rotate(-77.051)" x="181.6" y="1.45" text-anchor="end">CHN/CH-HNAY/2012/KC419005</text>
<text transform="translate(350.55,192.9) rotate(-75.275)" x="181.6" y="1.45" text-anchor="end">CHN/SHpd-2012/2014/KJ435105</text>
<text transform="translate(350.55,192.9) rotate(-73.500)" x="181.6" y="1.45" text-anchor="end">CHN/HB-2012-3/2012/KM434843</text>
<text transform="translate(350.55,192.9) rotate(-71.725)" x="181.6" y="1.45" text-anchor="end">CHN/SHpd-2012/2013/KR434974</text>
<text transform="translate(350.55,192.9) rotate(-69.949)" x="181.6" y="1.45" text-anchor="end">CHN/PEDV-LYG/2011/KC426793</text>
<text transform="translate(350.55,192.9) rotate(-68.174)" x="181.6" y="1.45" text-anchor="end">CHN/PEDV-LYG/2015/KJ427317</text>
<text transform="translate(350.55,192.9) rotate(-66.398)" x="181.6" y="1.45" text-anchor="end">CHN/CH-HNAY/2014/KM419267</text>
<text transform="translate(350.55,192.9) rotate(-64.623)" x="181.6" y="1.45" text-anchor="end">CHN/HB-2012-3/2016/MH435367</text>
<text transform="translate(350.55,192.9) rotate(-62.848)" x="181.6" y="1.45" text-anchor="end">CHN/CH-HNAY/2018/MH419791</text>
<text transform="translate(350.55,192.9) rotate(-61.072)" x="181.6" y="1.45" text-anchor="end">CHN/SHpd-2012/2015/KY435236</text>
<text transform="translate(350.55,192.9) rotate(-59.297)" x="181.6" y="1.45" text-anchor="end">CHN/CH-JLDH-2016/2016/LC459124</text>
<text transform="translate(350.55,192.9) rotate(-57.521)" x="181.6" y="1.45" text-anchor="end">CHN/CH-GDGZ-2012/2012/KY458600</text>
<text transform="translate(350.55,192.9) rotate(-55.746)" x="181.6" y="1.45" text-anchor="end">CHN/CH-GDGZ-2012/2014/KU458862</text>
<text transform="translate(350.55,192.9) rotate(-53.971)" x="181.6" y="1.45" text-anchor="end">CHN/CH-SCZG/2016/KJ419529</text>
<text transform="translate(350.55,192.9) rotate(-52.195)" x="181.6" y="1.45" text-anchor="end">CHN/CH-ZMDZY-11/2014/MH450943</text>
<text transform="translate(350.55,192.9) rotate(-50.420)" x="181.6" y="1.45" text-anchor="end">CHN/CH-ZMDZY-11/2013/KY450812</text>
<text transform="translate(350.55,192.9) rotate(-48.644)" x="181.6" y="1.45" text-anchor="end">KOR/K14JB01/2014/MH514499</text>
<text transform="translate(350.55,192.9) rotate(-46.869)" x="181.6" y="1.45" text-anchor="end">CHN/CH-ZMDZY-11/2015/KU451074</text>
<text transform="translate(350.55,192.9) rotate(-45.094)" x="181.6" y="1.45" text-anchor="end">CHN/CH-ZMDZY-11/2016/KP451205</text>
<text transform="translate(350.55,192.9) rotate(-43.318)" x="181.6" y="1.45" text-anchor="end">ESP/Castilla/2013/MH520333.1</text>
<text transform="translate(350.55,192.9) rotate(-41.543)" x="181.6" y="1.45" text-anchor="end">GER/L00719/2013/KJ508319.1</text>
<text transform="translate(350.55,192.9) rotate(-39.767)" x="181.6" y="1.45" text-anchor="end">USA/Kansas29/2014/KU520506</text>
<text transform="translate(350.55,192.9) rotate(-37.992)" x="181.6" y="1.45" text-anchor="end">ESP/Castilla/2014/KU520506.1</text>
<text transform="translate(350.55,192.9) rotate(-36.217)" x="181.6" y="1.45" text-anchor="end">USA/NC35140/2014/MH514499</text>
<text transform="translate(350.55,192.9) rotate(-34.441)" x="181.6" y="1.45" text-anchor="end">GER/L00719/2014/KY508492.1</text>
<text transform="translate(350.55,192.9) rotate(-32.666)" x="181.6" y="1.45" text-anchor="end">CHN/FL2013/2015/KM411479</text>
<text transform="translate(350.55,192.9) rotate(-30.890)" x="181.6" y="1.45" text-anchor="end">JPN/KGS-1/2014/KJ502485.1</text>
<text transform="translate(350.55,192.9) rotate(-29.115)" x="181.6" y="1.45" text-anchor="end">JPN/OKN-1/2013/KR502312.1</text>
<text transform="translate(350.55,192.9) rotate(-27.340)" x="181.6" y="1.45" text-anchor="end">JPN/OKN-1/2014/KJ502485.1</text>
<text transform="translate(350.55,192.9) rotate(-25.564)" x="181.6" y="1.45" text-anchor="end">JPN/MYZ-1/2013/KR502312.1</text>
<text transform="translate(350.55,192.9) rotate(-23.789)" x="181.6" y="1.45" text-anchor="end">USA/Texas31/2013/KY514326</text>
<text transform="translate(350.55,192.9) rotate(-22.013)" x="181.6" y="1.45" text-anchor="end">CHN/CH-GLGC-02/2018/MK690502</text>
<text transform="translate(350.55,192.9) rotate(-20.238)" x="181.6" y="1.45" text-anchor="end">CHN/18-GXYL-1/2018/MK478160</text>
<text transform="translate(350.55,192.9) rotate(-18.463)" x="181.6" y="1.45" text-anchor="end">CHN/GDS22/2012/KF384500.1</text>
<text transform="translate(350.55,192.9) rotate(-16.687)" x="181.6" y="1.45" text-anchor="end">CHN/AJ1102/2012/JX188454</text>
<text transform="translate(350.55,192.9) rotate(-14.912)" x="181.6" y="1.45" text-anchor="end">CHN/LC/2012/JX489155</text>
<text transform="translate(350.55,192.9) rotate(-13.136)" x="181.6" y="1.45" text-anchor="end">CHN/PDS25/2017/JX435310</text>
<text transform="translate(350.55,192.9) rotate(-11.361)" x="181.6" y="1.45" text-anchor="end">CHN/CH-GDHY/2015/KR818832</text>
<text transform="translate(350.55,192.9) rotate(-9.586)" x="181.6" y="1.45" text-anchor="end">CHN/XY/2015/KT021228</text>
<text transform="translate(350.55,192.9) rotate(-7.810)" x="181.6" y="1.45" text-anchor="end">CHN/YN15/2013/KF761675</text>
<text transform="translate(350.55,192.9) rotate(-6.035)" x="181.6" y="1.45" text-anchor="end">CHN/CH/YNKM-8/2013/KF761675</text>
<text transform="translate(350.55,192.9) rotate(-4.259)" x="181.6" y="1.45" text-anchor="end">CHN/GD-A/2012/JX112709</text>
<text transform="translate(350.55,192.9) rotate(-2.484)" x="181.6" y="1.45" text-anchor="end">CHN/18-GXGG-5/2018/MK478158</text>
<text transform="translate(350.55,192.9) rotate(-0.709)" x="181.6" y="1.45" text-anchor="end">CHN/CHGD-01/2011/JN980698</text>
<text transform="translate(350.55,192.9) rotate(1.067)" x="181.6" y="1.45" text-anchor="end">CHN/18-GXGG-7/2018/MK478154</text>
<text transform="translate(350.55,192.9) rotate(2.842)" x="181.6" y="1.45" text-anchor="end">CHN/18-GXLB-1/2018/MK478152</text>
<text transform="translate(350.55,192.9) rotate(4.618)" x="181.6" y="1.45" text-anchor="end">CHN/GD5601/2012/KM089829</text>
<text transform="translate(350.55,192.9) rotate(6.393)" x="181.6" y="1.45" text-anchor="end">CHN/21-GXNN-7/2021/OP398442</text>
<text transform="translate(350.55,192.9) rotate(8.168)" x="181.6" y="1.45" text-anchor="end">CHN/21-GXNN-4/2021/OP398447</text>
<text transform="translate(350.55,192.9) rotate(9.944)" x="181.6" y="1.45" text-anchor="end">CHN/HB-2012-3/2013/KR434974</text>
<text transform="translate(350.55,192.9) rotate(11.719)" x="181.6" y="1.45" text-anchor="end">CHN/21-GXFC-4/2021/OP807693</text>
<text transform="translate(350.55,192.9) rotate(13.495)" x="181.6" y="1.45" text-anchor="end">CHN/21-GXQZ-5/2021/OP191377</text>
<text transform="translate(350.55,192.9) rotate(15.270)" x="181.6" y="1.45" text-anchor="end">CHN/20-GXQZ-5/2020/MW115885</text>
<text transform="translate(350.55,192.9) rotate(17.045)" x="181.6" y="1.45" text-anchor="end">CHN/21-GXFC-7/2021/OP223723</text>
<text transform="translate(350.55,192.9) rotate(18.821)" x="181.6" y="1.45" text-anchor="end">CHN/21-GXWZ-3/2021/OP841360</text>
<text transform="translate(350.55,192.9) rotate(20.596)" x="181.6" y="1.45" text-anchor="end">CHN/21-GXNN-2/2021/OP162802</text>
<text transform="translate(350.55,192.9) rotate(22.372)" x="181.6" y="1.45" text-anchor="end">KOR/KNU-1305/2013/MH520333</text>
<text transform="translate(350.55,192.9) rotate(24.147)" x="181.6" y="1.45" text-anchor="end">CHN/CH-GDHY/2012/KC419005</text>
<text transform="translate(350.55,192.9) rotate(25.922)" x="181.6" y="1.45" text-anchor="end">CHN/CH-HNKF/2014/KM419267</text>
<text transform="translate(350.55,192.9) rotate(27.698)" x="181.6" y="1.45" text-anchor="end">CHN/CH-HNYF/2015/KR419398</text>
<text transform="translate(350.55,192.9) rotate(29.473)" x="181.6" y="1.45" text-anchor="end">CHN/17-GXWZ-9/2017/MK867446</text>
<text transform="translate(350.55,192.9) rotate(31.249)" x="181.6" y="1.45" text-anchor="end">CHN/18-GXYL-3/2018/MK774984</text>
<text transform="translate(350.55,192.9) rotate(33.024)" x="181.6" y="1.45" text-anchor="end">CHN/17-GXGG-7/2017/MK514033</text>
<text transform="translate(350.55,192.9) rotate(34.799)" x="181.6" y="1.45" text-anchor="end">CHN/CH-GX-2015-750A/2011/KU482226</text>
<text transform="translate(350.55,192.9) rotate(36.575)" x="181.6" y="1.45" text-anchor="end">CHN/CH-SDLY-01-2017/2014/MF482619</text>
<text transform="translate(350.55,192.9) rotate(38.350)" x="181.6" y="1.45" text-anchor="end">CHN/17-GXHZ-5/2017/MK942438</text>
<text transform="translate(350.55,192.9) rotate(40.126)" x="181.6" y="1.45" text-anchor="end">CHN/CH-FJND-3/2018/KP435629</text>
<text transform="translate(350.55,192.9) rotate(41.901)" x="181.6" y="1.45" text-anchor="end">CHN/18-GXWZ-1/2018/MK296406</text>
<text transform="translate(350.55,192.9) rotate(43.676)" x="181.6" y="1.45" text-anchor="end">CHN/18-GXHZ-7/2018/MK731262</text>
<text transform="translate(350.55,192.9) rotate(45.452)" x="181.6" y="1.45" text-anchor="end">CHN/18-GXNN-2/2018/MK253468</text>
<text transform="translate(350.55,192.9) rotate(47.227)" x="181.6" y="1.45" text-anchor="end">CHN/18-GXLZ-4/2018/MK370823</text>
<text transform="translate(350.55,192.9) rotate(49.003)" x="181.6" y="1.45" text-anchor="end">CHN/18-GXFC-1/2018/MK739980</text>
<text transform="translate(350.55,192.9) rotate(50.778)" x="181.6" y="1.45" text-anchor="end">CHN/20-GXHZ-6/2020/MW410719</text>
<text transform="translate(350.55,192.9) rotate(52.553)" x="181.6" y="1.45" text-anchor="end">CHN/18-GXGG-7/2018/MK177889</text>
<text transform="translate(350.55,192.9) rotate(54.329)" x="181.6" y="1.45" text-anchor="end">CHN/18-GXWZ-2/2018/MK711041</text>
<text transform="translate(350.55,192.9) rotate(56.104)" x="181.6" y="1.45" text-anchor="end">CHN/18-GXNN-4/2018/MK730491</text>
<text transform="translate(350.55,192.9) rotate(57.880)" x="181.6" y="1.45" text-anchor="end">CHN/21-GXQZ-6/2021/OP752370</text>
<text transform="translate(350.55,192.9) rotate(59.655)" x="181.6" y="1.45" text-anchor="end">CHN/18-GXLB-8/2018/MK715798</text>
<text transform="translate(350.55,192.9) rotate(61.430)" x="181.6" y="1.45" text-anchor="end">CHN/21-GXHZ-8/2021/OP702481</text>
<text transform="translate(350.55,192.9) rotate(63.206)" x="181.6" y="1.45" text-anchor="end">UKR/Poltava01/2014/KP526513.1</text>
<text transform="translate(350.55,192.9) rotate(64.981)" x="181.6" y="1.45" text-anchor="end">CHN/21-GXLB-7/2021/OP757713</text>
<text transform="translate(350.55,192.9) rotate(66.757)" x="181.6" y="1.45" text-anchor="end">CHN/18-GXBH-3/2018/MK339477</text>
<text transform="translate(350.55,192.9) rotate(68.532)" x="181.6" y="1.45" text-anchor="end">CHN/18-GXBS-4/2018/MK299020</text>
<text transform="translate(350.55,192.9) rotate(70.307)" x="181.6" y="1.45" text-anchor="end">CHN/21-GXBS-3/2021/OP759530</text>
<text transform="translate(350.55,192.9) rotate(72.083)" x="181.6" y="1.45" text-anchor="end">CHN/21-GXWZ-9/2021/OP820344</text>
<text transform="translate(350.55,192.9) rotate(73.858)" x="181.6" y="1.45" text-anchor="end">CHN/21-GXLZ-7/2021/OP732851</text>
<text transform="translate(350.55,192.9) rotate(75.634)" x="181.6" y="1.45" text-anchor="end">JPN/OKN-1/2015/KY502658.1</text>
<text transform="translate(350.55,192.9) rotate(77.409)" x="181.6" y="1.45" text-anchor="end">CHN/GD5601/2013/KC411217</text>
<text transform="translate(350.55,192.9) rotate(79.184)" x="181.6" y="1.45" text-anchor="end">CHN/LG-2017/2013/JN419136</text>
<text transform="translate(350.55,192.9) rotate(80.960)" x="181.6" y="1.45" text-anchor="end">CHN/17-GXBH-9/2017/MK349988</text>
<text transform="translate(350.55,192.9) rotate(82.735)" x="181.6" y="1.45" text-anchor="end">CHN/18-GXBH-7/2018/MK541256</text>
<text transform="translate(350.55,192.9) rotate(84.511)" x="181.6" y="1.45" text-anchor="end">CHN/17-GXBH-8/2017/MK645337</text>
<text transform="translate(350.55,192.9) rotate(86.286)" x="181.6" y="1.45" text-anchor="end">THA/EAS1/2013/KM496305</text>
<text transform="translate(350.55,192.9) rotate(88.061)" x="181.6" y="1.45" text-anchor="end">THA/EAS1/2015/KJ496651.1</text>
<text transform="translate(350.55,192.9) rotate(89.837)" x="181.6" y="1.45" text-anchor="end">CHN/18-GXLB-2/2018/MK339490</text>
<text transform="translate(350.55,192.9) rotate(271.612)" x="-181.6" y="1.45" text-anchor="start">CHN/CH-SCMY-2018-03/2014/MF482619</text>
<text transform="translate(350.55,192.9) rotate(273.388)" x="-181.6" y="1.45" text-anchor="start">CHN/CH-SCMY-2018-03/2015/MT482750</text>
<text transform="translate(350.55,192.9) rotate(275.163)" x="-181.6" y="1.45" text-anchor="start">CHN/CH-GX-2015-750A/2016/MK482881</text>
<text transform="translate(350.55,192.9) rotate(276.938)" x="-181.6" y="1.45" text-anchor="start">CHN/CH-GDHY/2015/KR419398</text>
<text transform="translate(350.55,192.9) rotate(278.714)" x="-181.6" y="1.45" text-anchor="start">CHN/CH-SXWS/2014/KM419267</text>
<text transform="translate(350.55,192.9) rotate(280.489)" x="-181.6" y="1.45" text-anchor="start">CHN/18-GXBS-4/2018/MK117379</text>
<text transform="translate(350.55,192.9) rotate(282.264)" x="-181.6" y="1.45" text-anchor="start">CHN/18-GXBH-2/2018/MK531412</text>
<text transform="translate(350.55,192.9) rotate(284.040)" x="-181.6" y="1.45" text-anchor="start">CHN/18-GXWZ-8/2018/MK163392</text>
<text transform="translate(350.55,192.9) rotate(285.815)" x="-181.6" y="1.45" text-anchor="start">USA/Minnesota52/2013/LC538354.1</text>
<text transform="translate(350.55,192.9) rotate(287.591)" x="-181.6" y="1.45" text-anchor="start">CHN/18-GXQZ-5/2018/MK656797</text>
<text transform="translate(350.55,192.9) rotate(289.366)" x="-181.6" y="1.45" text-anchor="start">USA/Indiana-17846/2014/MK550541</text>
<text transform="translate(350.55,192.9) rotate(291.142)" x="-181.6" y="1.45" text-anchor="start">CHN/18-GXGG-3/2018/MK479736</text>
<text transform="translate(350.55,192.9) rotate(292.917)" x="-181.6" y="1.45" text-anchor="start">CHN/18-GXLZ-3/2018/MK447041</text>
<text transform="translate(350.55,192.9) rotate(294.692)" x="-181.6" y="1.45" text-anchor="start">CHN/18-GXCZ-9/2018/MK247164</text>
<text transform="translate(350.55,192.9) rotate(296.468)" x="-181.6" y="1.45" text-anchor="start">CHN/19-GXNN-1/2019/MW597856</text>
<text transform="translate(350.55,192.9) rotate(298.243)" x="-181.6" y="1.45" text-anchor="start">CHN/18-GXBS-6/2018/MK426950</text>
<text transform="translate(350.55,192.9) rotate(300.019)" x="-181.6" y="1.45" text-anchor="start">CHN/18-GXNN-1/2018/MK727439</text>
<text transform="translate(350.55,192.9) rotate(301.794)" x="-181.6" y="1.45" text-anchor="start">CHN/17-GXLZ-2/2017/MK170538</text>
<text transform="translate(350.55,192.9) rotate(303.569)" x="-181.6" y="1.45" text-anchor="start">CHN/17-GXQZ-5/2017/MK243241</text>
<text transform="translate(350.55,192.9) rotate(305.345)" x="-181.6" y="1.45" text-anchor="start">CHN/18-GXGG-2/2018/MK575100</text>
<text transform="translate(350.55,192.9) rotate(307.120)" x="-181.6" y="1.45" text-anchor="start">CHN/17-GXQZ-9/2017/MK872806</text>
<text transform="translate(350.55,192.9) rotate(308.895)" x="-181.6" y="1.45" text-anchor="start">CHN/SHpd-2012/2017/KU435498</text>
<text transform="translate(350.55,192.9) rotate(310.671)" x="-181.6" y="1.45" text-anchor="start">CHN/18-GXFC-3/2018/MK458208</text>
<text transform="translate(350.55,192.9) rotate(312.446)" x="-181.6" y="1.45" text-anchor="start">CHN/18-GXGG-6/2018/MK818427</text>
<text transform="translate(350.55,192.9) rotate(314.222)" x="-181.6" y="1.45" text-anchor="start">CHN/18-GXGG-8/2018/MK998939</text>
<text transform="translate(350.55,192.9) rotate(315.997)" x="-181.6" y="1.45" text-anchor="start">CHN/17-GXFC-7/2017/MK131740</text>
<text transform="translate(350.55,192.9) rotate(317.773)" x="-181.6" y="1.45" text-anchor="start">CHN/CH-GXYL-1/2011/JN434712</text>
<text transform="translate(350.55,192.9) rotate(319.548)" x="-181.6" y="1.45" text-anchor="start">USA/Missouri270/2014/MF538527</text>
<text transform="translate(350.55,192.9) rotate(321.323)" x="-181.6" y="1.45" text-anchor="start">VIE/HUA-PED45/2013/KU526340</text>
<text transform="translate(350.55,192.9) rotate(323.099)" x="-181.6" y="1.45" text-anchor="start">CHN/17-GXYL-7/2017/MK710983</text>
<text transform="translate(350.55,192.9) rotate(324.874)" x="-181.6" y="1.45" text-anchor="start">CHN/17-GXCZ-1/2017/MK175758</text>
<text transform="translate(350.55,192.9) rotate(326.649)" x="-181.6" y="1.45" text-anchor="start">CHN/17-GXGG-2/2017/MK770464</text>
<text transform="translate(350.55,192.9) rotate(328.425)" x="-181.6" y="1.45" text-anchor="start">CHN/17-GXBH-2/2017/MK536465</text>
<text transform="translate(350.55,192.9) rotate(330.200)" x="-181.6" y="1.45" text-anchor="start">CHN/20-GXYL-6/2020/MW870743</text>
<text transform="translate(350.55,192.9) rotate(331.976)" x="-181.6" y="1.45" text-anchor="start">CHN/21-GXLZ-8/2021/OP585094</text>
<text transform="translate(350.55,192.9) rotate(333.751)" x="-181.6" y="1.45" text-anchor="start">CHN/20-GXGG-9/2020/MW643893</text>
<text transform="translate(350.55,192.9) rotate(335.527)" x="-181.6" y="1.45" text-anchor="start">CHN/20-GXNN-9/2020/MW425304</text>
<text transform="translate(350.55,192.9) rotate(337.302)" x="-181.6" y="1.45" text-anchor="start">CHN/19-GXLZ-2/2019/MW123373</text>
<text transform="translate(350.55,192.9) rotate(339.077)" x="-181.6" y="1.45" text-anchor="start">CHN/20-GXBS-4/2020/MW218368</text>
<text transform="translate(350.55,192.9) rotate(340.853)" x="-181.6" y="1.45" text-anchor="start">CHN/19-GXFC-8/2019/MW744353</text>
<text transform="translate(350.55,192.9) rotate(342.628)" x="-181.6" y="1.45" text-anchor="start">CHN/20-GXBH-8/2020/MW111856</text>
<text transform="translate(350.55,192.9) rotate(344.404)" x="-181.6" y="1.45" text-anchor="start">CHN/20-GXBH-6/2020/MW250177</text>
<text transform="translate(350.55,192.9) rotate(346.179)" x="-181.6" y="1.45" text-anchor="start">CHN/20-GXNN-6/2020/MW556468</text>
<text transform="translate(350.55,192.9) rotate(347.954)" x="-181.6" y="1.45" text-anchor="start">CHN/21-GXNN-5/2021/OP398428</text>
<text transform="translate(350.55,192.9) rotate(349.730)" x="-181.6" y="1.45" text-anchor="start">CHN/21-GXNN-3/2021/OP398429</text>
<text transform="translate(350.55,192.9) rotate(351.505)" x="-181.6" y="1.45" text-anchor="start">CHN/21-GXQZ-1/2021/OP398430</text>
<text transform="translate(350.55,192.9) rotate(353.281)" x="-181.6" y="1.45" text-anchor="start">CHN/21-GXBH-1/2021/OP398431</text>
<text transform="translate(350.55,192.9) rotate(355.056)" x="-181.6" y="1.45" text-anchor="start">CHN/18-GXGG-4/2018/MK478157</text>
<text transform="translate(350.55,192.9) rotate(356.831)" x="-181.6" y="1.45" text-anchor="start">CHN/21-GXLB-2/2021/OP398432</text>
<text transform="translate(350.55,192.9) rotate(358.607)" x="-181.6" y="1.45" text-anchor="start">CHN/21-GXLZ-1/2021/OP398433</text>
<text transform="translate(350.55,192.9) rotate(360.382)" x="-181.6" y="1.45" text-anchor="start">CHN/20-GXNN-2/2020/MW556464</text>
<text transform="translate(350.55,192.9) rotate(362.158)" x="-181.6" y="1.45" text-anchor="start">CHN/20-GXNN-1/2020/MW556463</text>
<text transform="translate(350.55,192.9) rotate(363.933)" x="-181.6" y="1.45" text-anchor="start">CHN/21-GXLB-3/2021/OP398434</text>
<text transform="translate(350.55,192.9) rotate(365.708)" x="-181.6" y="1.45" text-anchor="start">CHN/22-GXNN-1/2022/OP398449</text>
<text transform="translate(350.55,192.9) rotate(367.484)" x="-181.6" y="1.45" text-anchor="start">CHN/21-GXBH-2/2021/OP398435</text>
<text transform="translate(350.55,192.9) rotate(369.259)" x="-181.6" y="1.45" text-anchor="start">CHN/21-GXWZ-1/2021/OP398436</text>
<text transform="translate(350.55,192.9) rotate(371.034)" x="-181.6" y="1.45" text-anchor="start">CHN/21-GXBH-3/2021/OP398437</text>
<text transform="translate(350.55,192.9) rotate(372.810)" x="-181.6" y="1.45" text-anchor="start">CHN/21-GXWZ-2/2021/OP398438</text>
<text transform="translate(350.55,192.9) rotate(374.585)" x="-181.6" y="1.45" text-anchor="start">CHN/21-GXWZ-3/2021/OP398439</text>
<text transform="translate(350.55,192.9) rotate(376.361)" x="-181.6" y="1.45" text-anchor="start">CHN/21-GXGG-1/2021/OP398440</text>
<text transform="translate(350.55,192.9) rotate(378.136)" x="-181.6" y="1.45" text-anchor="start">CHN/21-GXWZ-4/2021/OP398443</text>
<text transform="translate(350.55,192.9) rotate(379.912)" x="-181.6" y="1.45" text-anchor="start">CHN/21-GXLB-1/2021/OP398446</text>
</g>
<g id="dots">
<circle cx="190.16" cy="99.71" r="2.5" fill="#660033"/>
<circle cx="193.12" cy="94.78" r="2.5" fill="#660033"/>
<circle cx="199.50" cy="85.22" r="2.5" fill="#3c3cff"/>
<circle cx="210.15" cy="71.67" r="2.5" fill="#548235"/>
<circle cx="213.97" cy="67.37" r="2.5" fill="#548235"/>
<circle cx="253.80" cy="34.63" r="2.5" fill="#548235"/>
<circle cx="258.75" cy="31.71" r="2.5" fill="#548235"/>
<circle cx="352.24" cy="7.41" r="2.5" fill="#ff0000"/>
<circle cx="522.53" cy="123.37" r="2.5" fill="#ffd966"/>
<circle cx="524.60" cy="128.73" r="2.5" fill="#ffd966"/>
<circle cx="535.88" cy="184.86" r="2.5" fill="#ffd966"/>
<circle cx="536.02" cy="196.35" r="2.5" fill="#ffd966"/>
<circle cx="535.82" cy="202.10" r="2.5" fill="#ffd966"/>
<circle cx="534.90" cy="213.55" r="2.5" fill="#548235"/>
<circle cx="534.17" cy="219.26" r="2.5" fill="#548235"/>
<circle cx="532.18" cy="230.58" r="2.5" fill="#548235"/>
<circle cx="530.93" cy="236.19" r="2.5" fill="#548235"/>
<circle cx="529.50" cy="241.75" r="2.5" fill="#cc00ff"/>
<circle cx="527.90" cy="247.28" r="2.5" fill="#548235"/>
<circle cx="526.13" cy="252.74" r="2.5" fill="#548235"/>
<circle cx="524.19" cy="258.15" r="2.5" fill="#548235"/>
<circle cx="512.04" cy="284.17" r="2.5" fill="#ff0000"/>
<circle cx="509.14" cy="289.13" r="2.5" fill="#ffd966"/>
<circle cx="506.08" cy="294.00" r="2.5" fill="#ff0000"/>
<circle cx="496.03" cy="308.00" r="2.5" fill="#ff0000"/>
<circle cx="488.62" cy="316.79" r="2.5" fill="#ffd966"/>
<circle cx="484.71" cy="321.00" r="2.5" fill="#ffd966"/>
<circle cx="480.68" cy="325.10" r="2.5" fill="#ffd966"/>
<circle cx="476.52" cy="329.07" r="2.5" fill="#ffd966"/>
<circle cx="472.24" cy="332.90" r="2.5" fill="#ffd966"/>
<circle cx="467.85" cy="336.61" r="2.5" fill="#cc00ff"/>
<circle cx="463.34" cy="340.17" r="2.5" fill="#ffd966"/>
<circle cx="458.72" cy="343.60" r="2.5" fill="#ffd966"/>
<circle cx="454.00" cy="346.87" r="2.5" fill="#ffd966"/>
<circle cx="449.18" cy="350.01" r="2.5" fill="#548235"/>
<circle cx="444.27" cy="352.99" r="2.5" fill="#ffd966"/>
<circle cx="439.26" cy="355.81" r="2.5" fill="#548235"/>
<circle cx="429.00" cy="360.99" r="2.5" fill="#548235"/>
<circle cx="423.76" cy="363.34" r="2.5" fill="#ffd966"/>
<circle cx="418.44" cy="365.53" r="2.5" fill="#ffd966"/>
<circle cx="413.06" cy="367.55" r="2.5" fill="#548235"/>
<circle cx="407.62" cy="369.40" r="2.5" fill="#548235"/>
<circle cx="402.12" cy="371.09" r="2.5" fill="#548235"/>
<circle cx="379.70" cy="376.10" r="2.5" fill="#ff0000"/>
<circle cx="374.01" cy="376.91" r="2.5" fill="#ffd966"/>
<circle cx="368.30" cy="377.55" r="2.5" fill="#ff0000"/>
<circle cx="351.08" cy="378.40" r="2.5" fill="#ffd966"/>
<circle cx="316.78" cy="375.30" r="2.5" fill="#ffd966"/>
<circle cx="311.15" cy="374.17" r="2.5" fill="#ffd966"/>
<circle cx="305.55" cy="372.86" r="2.5" fill="#ffd966"/>
<circle cx="294.49" cy="369.73" r="2.5" fill="#ffd966"/>
<circle cx="283.65" cy="365.91" r="2.5" fill="#ffd966"/>
<circle cx="278.32" cy="363.76" r="2.5" fill="#ffd966"/>
<circle cx="273.06" cy="361.44" r="2.5" fill="#ffd966"/>
<circle cx="267.87" cy="358.96" r="2.5" fill="#3c3cff"/>
<circle cx="262.77" cy="356.32" r="2.5" fill="#ffd966"/>
<circle cx="257.75" cy="353.52" r="2.5" fill="#ffd966"/>
<circle cx="252.82" cy="350.57" r="2.5" fill="#ff0000"/>
<circle cx="247.98" cy="347.46" r="2.5" fill="#ff0000"/>
<circle cx="243.24" cy="344.21" r="2.5" fill="#ffd966"/>
<circle cx="238.60" cy="340.81" r="2.5" fill="#ff0000"/>
<circle cx="229.66" cy="333.60" r="2.5" fill="#ffd966"/>
<circle cx="225.36" cy="329.78" r="2.5" fill="#ffd966"/>
<circle cx="221.18" cy="325.84" r="2.5" fill="#ffd966"/>
<circle cx="217.12" cy="321.77" r="2.5" fill="#ff0000"/>
<circle cx="202.21" cy="304.28" r="2.5" fill="#ff0000"/>
<circle cx="198.83" cy="299.63" r="2.5" fill="#ff0000"/>
<circle cx="195.60" cy="294.88" r="2.5" fill="#ff0000"/>
<circle cx="192.51" cy="290.03" r="2.5" fill="#ff0000"/>
<circle cx="189.58" cy="285.09" r="2.5" fill="#cc00ff"/>
<circle cx="186.80" cy="280.06" r="2.5" fill="#548235"/>
<circle cx="184.18" cy="274.94" r="2.5" fill="#cc00ff"/>
<circle cx="181.72" cy="269.75" r="2.5" fill="#cc00ff"/>
<circle cx="179.42" cy="264.48" r="2.5" fill="#3c3cff"/>
<circle cx="177.28" cy="259.14" r="2.5" fill="#cc00ff"/>
<circle cx="175.31" cy="253.74" r="2.5" fill="#3c3cff"/>
<circle cx="173.51" cy="248.29" r="2.5" fill="#cc00ff"/>
<circle cx="171.88" cy="242.77" r="2.5" fill="#cc00ff"/>
<circle cx="170.42" cy="237.21" r="2.5" fill="#cc00ff"/>
<circle cx="169.13" cy="231.61" r="2.5" fill="#548235"/>
<circle cx="168.02" cy="225.97" r="2.5" fill="#548235"/>
<circle cx="167.09" cy="220.30" r="2.5" fill="#548235"/>
<circle cx="166.32" cy="214.61" r="2.5" fill="#548235"/>
<circle cx="165.74" cy="208.89" r="2.5" fill="#ffd966"/>
<circle cx="165.33" cy="203.15" r="2.5" fill="#548235"/>
<circle cx="165.10" cy="197.41" r="2.5" fill="#548235"/>
<circle cx="165.05" cy="191.66" r="2.5" fill="#cc00ff"/>
<circle cx="165.18" cy="185.92" r="2.5" fill="#cc00ff"/>
<circle cx="165.49" cy="180.18" r="2.5" fill="#548235"/>
<circle cx="165.97" cy="174.45" r="2.5" fill="#660033"/>
<circle cx="166.63" cy="168.74" r="2.5" fill="#548235"/>
<circle cx="167.47" cy="163.05" r="2.5" fill="#548235"/>
<circle cx="168.48" cy="157.40" r="2.5" fill="#548235"/>
<circle cx="169.67" cy="151.77" r="2.5" fill="#548235"/>
<circle cx="171.03" cy="146.19" r="2.5" fill="#548235"/>
<circle cx="172.56" cy="140.65" r="2.5" fill="#548235"/>
<circle cx="174.27" cy="135.16" r="2.5" fill="#548235"/>
<circle cx="176.14" cy="129.72" r="2.5" fill="#548235"/>
<path transform="translate(294.73,16.94) rotate(-17.60)" d="M-2.4,-2.3 L2.4,-2.3 L0,2.5 Z" fill="#fff" stroke="#444" stroke-width="0.6" stroke-linejoin="miter"/>
<path transform="translate(528.61,139.82) rotate(73.40)" d="M-2.4,-2.3 L2.4,-2.3 L0,2.5 Z" fill="#fff" stroke="#444" stroke-width="0.6" stroke-linejoin="miter"/>
</g>
<circle cx="34.8" cy="216.2" r="4.9" fill="#ff0000"/>
<text y="219.5" font-family="'Liberation Serif', serif" font-size="9.6" fill="#000"><tspan x="40.7">Guangxi</tspan> <tspan x="78.1">PEDV</tspan> <tspan x="106.1">strains</tspan> <tspan x="134.5">(2017)</tspan></text>
<circle cx="34.8" cy="236.7" r="4.9" fill="#ffd966"/>
<text y="240.0" font-family="'Liberation Serif', serif" font-size="9.6" fill="#000"><tspan x="40.7">Guangxi</tspan> <tspan x="78.1">PEDV</tspan> <tspan x="106.1">strains</tspan> <tspan x="134.5">(2018)</tspan></text>
<circle cx="34.8" cy="257.2" r="4.9" fill="#3c3cff"/>
<text y="260.5" font-family="'Liberation Serif', serif" font-size="9.6" fill="#000"><tspan x="40.7">Guangxi</tspan> <tspan x="78.1">PEDV</tspan> <tspan x="106.1">strains</tspan> <tspan x="134.5">(2019)</tspan></text>
<circle cx="35.8" cy="277.7" r="4.9" fill="#cc00ff"/>
<text y="281.0" font-family="'Liberation Serif', serif" font-size="9.6" fill="#000"><tspan x="40.7">Guangxi</tspan> <tspan x="78.1">PEDV</tspan> <tspan x="106.1">strains</tspan> <tspan x="134.5">(2020)</tspan></text>
<circle cx="34.8" cy="298.2" r="4.9" fill="#548235"/>
<text y="301.5" font-family="'Liberation Serif', serif" font-size="9.6" fill="#000"><tspan x="40.7">Guangxi</tspan> <tspan x="78.1">PEDV</tspan> <tspan x="106.1">strains</tspan> <tspan x="134.5">(2021)</tspan></text>
<circle cx="34.8" cy="318.7" r="4.9" fill="#660033"/>
<text y="322.0" font-family="'Liberation Serif', serif" font-size="9.6" fill="#000"><tspan x="40.7">Guangxi</tspan> <tspan x="78.1">PEDV</tspan> <tspan x="106.1">strains</tspan> <tspan x="134.5">(2022)</tspan></text>
<rect x="89.5" y="123.5" width="45.5" height="76" fill="#fff" stroke="#f3f3f3" stroke-width="0.5"/>
<text x="92.6" y="132" font-family="'Liberation Serif', serif" font-weight="bold" font-size="6.15" fill="#111">Colored ranges</text>
<path d="M92,134.3H133.5" stroke="#ddd" stroke-width="0.5"/>
<rect x="92.6" y="137.5" width="8.2" height="8.2" fill="#b4a7d6" stroke="#999" stroke-width="0.4"/>
<text x="104.8" y="143.6" font-family="'Liberation Serif', serif" font-size="6.2" fill="#333">G1a</text>
<rect x="92.6" y="149.7" width="8.2" height="8.2" fill="#ffe599" stroke="#999" stroke-width="0.4"/>
<text x="104.8" y="155.8" font-family="'Liberation Serif', serif" font-size="6.2" fill="#333">G1b</text>
<rect x="92.6" y="161.9" width="8.2" height="8.2" fill="#ea9999" stroke="#999" stroke-width="0.4"/>
<text x="104.8" y="168.0" font-family="'Liberation Serif', serif" font-size="6.2" fill="#333">G2a</text>
<rect x="92.6" y="174.1" width="8.2" height="8.2" fill="#6fa8dc" stroke="#999" stroke-width="0.4"/>
<text x="104.8" y="180.2" font-family="'Liberation Serif', serif" font-size="6.2" fill="#333">G2b</text>
<rect x="92.6" y="186.3" width="8.2" height="8.2" fill="#b6d7a8" stroke="#999" stroke-width="0.4"/>
<text x="104.8" y="192.4" font-family="'Liberation Serif', serif" font-size="6.2" fill="#333">G2c</text>
<text x="35.8" y="22" font-family="'Liberation Sans', sans-serif" font-weight="bold" font-size="4.85" fill="#444">Tree scale: 0.1</text>
<path d="M73.6,20.3H144 M73.6,19V21.6 M144,19V21.6 M108.8,19.6V21" stroke="#222" stroke-width="0.8" fill="none"/>
</svg>
</body></html>
